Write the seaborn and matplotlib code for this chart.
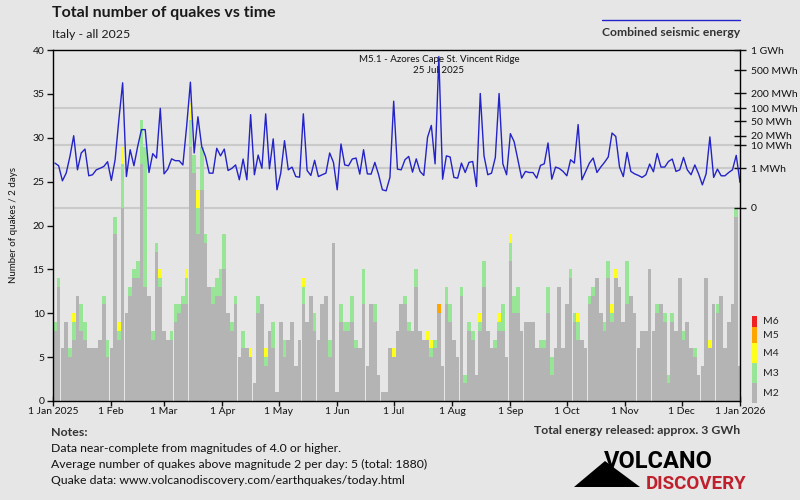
import numpy as np
import pandas as pd
import matplotlib
matplotlib.use("Agg")
import matplotlib.pyplot as plt
from matplotlib.patches import Rectangle, Polygon
import seaborn as sns

# quakes per 2-day bin, split by magnitude class (M2 = 2..3, M3, M4, M5)
m2 = [8, 13, 6, 9, 5, 7, 12, 8, 7, 6,
      6, 6, 7, 11, 5, 6, 19, 7, 22, 10,
      12, 14, 14, 27, 13, 12, 7, 17, 13, 8,
      7, 7, 9, 10, 11, 11, 29, 26, 19, 24,
      18, 13, 11, 12, 12, 15, 10, 8, 11, 5,
      6, 6, 5, 2, 10, 11, 4, 8, 6, 1,
      9, 5, 7, 9, 4, 7, 11, 9, 12, 8,
      7, 11, 12, 5, 18, 1, 9, 8, 8, 9,
      6, 6, 11, 4, 11, 9, 3, 1, 1, 6,
      5, 8, 11, 11, 8, 8, 13, 8, 7, 7,
      5, 6, 10, 4, 11, 9, 7, 5, 12, 2,
      8, 7, 3, 8, 13, 8, 6, 6, 8, 8,
      5, 16, 10, 10, 8, 9, 9, 9, 6, 6,
      6, 10, 3, 6, 13, 6, 11, 14, 9, 7,
      7, 6, 11, 12, 14, 10, 8, 14, 9, 14,
      13, 9, 11, 12, 10, 6, 8, 8, 15, 8,
      10, 11, 9, 2, 9, 8, 14, 7, 9, 6,
      5, 3, 4, 14, 6, 11, 10, 12, 6, 9,
      11, 21, 4]
m3 = [1, 1, 0, 0, 1, 2, 0, 3, 2, 0,
      0, 0, 0, 1, 2, 0, 2, 1, 5, 0,
      1, 1, 2, 5, 16, 0, 1, 1, 1, 0,
      0, 1, 2, 1, 1, 3, 3, 2, 3, 5,
      1, 0, 2, 2, 3, 4, 0, 1, 1, 0,
      2, 0, 0, 0, 2, 0, 1, 0, 3, 0,
      0, 2, 0, 0, 0, 0, 2, 0, 0, 2,
      0, 0, 0, 2, 0, 0, 2, 1, 1, 3,
      1, 0, 4, 0, 0, 2, 0, 0, 0, 0,
      0, 0, 0, 1, 1, 0, 2, 0, 0, 0,
      1, 1, 0, 0, 2, 2, 0, 0, 1, 1,
      1, 1, 0, 1, 3, 0, 0, 1, 1, 3,
      0, 2, 2, 3, 0, 0, 0, 0, 0, 1,
      1, 3, 2, 0, 0, 0, 0, 1, 1, 2,
      0, 0, 1, 1, 0, 0, 1, 2, 1, 0,
      0, 0, 5, 0, 0, 0, 0, 0, 0, 0,
      1, 0, 1, 1, 1, 0, 0, 1, 0, 0,
      1, 0, 0, 0, 0, 0, 1, 0, 0, 0,
      0, 1, 0]
m4 = [0] * 183
for i, n in [(6, 1), (18, 1), (19, 2), (29, 1), (36, 1), (37, 2), (39, 2), (53, 1),
             (57, 1), (67, 1), (91, 1), (100, 1), (101, 1), (114, 1), (119, 1),
             (122, 1), (140, 1), (149, 1), (150, 1), (175, 1)]:
    m4[i - 1] = n
m5 = [0] * 183
m5[103 - 1] = 1

# combined seismic energy per 2-day bin, MWh
energy_mwh = [1.85, 1.36, 0.15, 0.52, 3.7, 20, 0.82, 5.1, 7.2, 0.35,
              0.41, 0.82, 1.0, 1.25, 2.15, 0.16, 2.65, 55, 312, 0.31,
              6.8, 1.36, 9.0, 30, 30, 0.57, 4.8, 3.15, 100, 0.47,
              0.9, 2.9, 2.4, 2.4, 1.5, 37, 320, 5.1, 64, 9.0,
              3.7, 0.52, 0.52, 7.7, 3.9, 7.2, 0.75, 0.98, 1.5, 0.18,
              2.85, 0.18, 72, 0.41, 4.2, 1.0, 75, 0.94, 16, 0.02,
              0.52, 14, 0.82, 1.16, 0.31, 0.28, 75, 0.75, 0.37, 2.5,
              0.31, 0.41, 0.52, 5.1, 2.0, 0.02, 10.9, 1.5, 1.36, 2.85,
              3.15, 0.45, 6.8, 0.47, 0.45, 2.0, 0.41, 0.02, 0.015, 0.27,
              141, 0.9, 0.82, 2.65, 3.7, 0.6, 2.9, 0.66, 0.37, 18,
              39, 1.7, 810, 0.2, 3.9, 3.5, 0.27, 0.24, 1.85, 0.57,
              2.0, 2.2, 0.046, 200, 3.9, 0.41, 0.52, 3.35, 200, 1.7,
              0.41, 23, 13, 2.65, 0.24, 0.66, 0.57, 0.57, 0.24, 1.42,
              1.7, 11.8, 0.2, 1.16, 0.98, 0.66, 0.35, 2.65, 1.85, 41,
              0.18, 0.66, 1.85, 3.15, 0.57, 1.16, 2.0, 3.5, 24, 19,
              1.16, 0.31, 5.4, 0.66, 0.47, 0.37, 0.27, 0.41, 1.66, 0.63,
              4.9, 1.16, 1.16, 2.2, 2.85, 0.66, 0.82, 3.35, 0.82, 0.41,
              1.5, 0.47, 0.067, 0.47, 18.4, 0.27, 0.9, 0.35, 0.35, 0.57,
              0.82, 4.1, 0.11]

month_days = [0, 31, 59, 90, 120, 151, 181, 212, 243, 273, 304, 334, 365]
month_labels = ["1 Jan 2025", "1 Feb", "1 Mar", "1 Apr", "1 May", "1 Jun", "1 Jul",
                "1 Aug", "1 Sep", "1 Oct", "1 Nov", "1 Dec", "1 Jan 2026"]
energy_ticks = [0, 1, 10, 20, 50, 100, 200, 500, 1000]
energy_labels = ["0", "1 MWh", "10 MWh", "20 MWh", "50 MWh", "100 MWh",
                 "200 MWh", "500 MWh", "1 GWh"]
energy_grid = [0, 1, 10, 100]

mag_names = ["M2", "M3", "M4", "M5", "M6"]
mag_colors = ["#b4b4b4", "#98e598", "#ffff1e", "#ffa500", "#ee2222"]

BG = "#e6e6e6"
sns.set_theme(style="ticks", rc={"axes.facecolor": BG, "figure.facecolor": BG})
plt.rcParams["font.family"] = ["Lato", "DejaVu Sans"]

df = pd.DataFrame({"bin": np.arange(len(m2)), "m2": m2, "m3": m3, "m4": m4, "m5": m5,
                   "energy": energy_mwh})
df["c2"] = df["m2"]
df["c3"] = df["c2"] + df["m3"]
df["c4"] = df["c3"] + df["m4"]
df["c5"] = df["c4"] + df["m5"]


def fwd(e):
    e = np.asarray(e, dtype=float)
    return np.sign(e) * np.abs(e) ** 0.2


def inv(v):
    v = np.asarray(v, dtype=float)
    return np.sign(v) * np.abs(v) ** 5


e_low = -(22 / 18) ** 5 * 1000   # so that 0 MWh sits at 22 quakes and 1 GWh at 40

W, H = 800, 500
rect = [53 / W, 1 - 401 / H, 687 / W, 351 / H]
fig = plt.figure(figsize=(8, 5), dpi=100)

# background grid (behind the bars)
ax_bg = fig.add_axes(rect, zorder=0)
ax_bg.set_facecolor(BG)
ax_bg.set_yscale("function", functions=(fwd, inv))
ax_bg.set_ylim(e_low, 1000)
for e in energy_grid:
    ax_bg.axhline(e, color="#cacaca", lw=1.5)
ax_bg.axis("off")

# bars
ax = fig.add_axes(rect, zorder=1)
ax.patch.set_visible(False)
for col, c in zip(["c5", "c4", "c3", "c2"], mag_colors[3::-1]):
    sns.barplot(data=df, x="bin", y=col, color=c, saturation=1, width=0.97,
                linewidth=0, errorbar=None, ax=ax)
ax.set_ylim(0, 40)
ax.set_xlim(-0.5, 182)
ax.set_yticks(range(0, 41, 5))
ax.set_xticks([d / 2 - 0.5 for d in month_days], month_labels)
ax.tick_params(axis="y", direction="out", length=4, width=1, labelsize=7.5, pad=2,
               colors="#111111")
ax.tick_params(axis="x", direction="inout", length=7, width=1, labelsize=7.5, pad=1,
               colors="#111111")
ax.set_xlabel("")
ax.set_ylabel("")
for s in ["left", "bottom", "top"]:
    ax.spines[s].set_visible(True)
    ax.spines[s].set_color("black")
    ax.spines[s].set_linewidth(1)
ax.spines["right"].set_visible(False)

# energy line
ax2 = ax.twinx()
ax2.set_yscale("function", functions=(fwd, inv))
sns.lineplot(data=df, x="bin", y="energy", color="#2323c8", lw=1, ax=ax2)
ax2.set_ylim(e_low, 1000)
ax2.set_xlim(-0.5, 182)
ax2.set_yticks(energy_ticks, energy_labels)
ax2.yaxis.set_minor_locator(matplotlib.ticker.NullLocator())
ax2.tick_params(axis="y", direction="inout", length=8, width=1, labelsize=7.5, pad=4,
                colors="#111111")
ax2.set_xlabel("")
ax2.set_ylabel("")
for s in ["left", "bottom", "top"]:
    ax2.spines[s].set_visible(False)
ax2.spines["right"].set_visible(True)
ax2.spines["right"].set_color("black")
ax2.spines["right"].set_linewidth(1)

ax2.text(102, 0.985, "M5.1 - Azores Cape St. Vincent Ridge\n25 Jul 2025",
         transform=ax2.get_xaxis_transform(), ha="center", va="top",
         fontsize=7, color="#111111", linespacing=1.3)


def fx(px):
    return px / W


def fy(py):
    return 1 - py / H


fig.text(fx(52), fy(13), "Total number of quakes vs time", fontsize=11.5,
         fontweight="bold", color="#1a1a1a", va="center")
fig.text(fx(52), fy(34), "Italy - all 2025", fontsize=8.9, color="#1a1a1a", va="center")
fig.text(fx(14), fy(225), "Number of quakes / 2 days", fontsize=7, rotation=90,
         ha="center", va="center", color="#111111")

# energy legend
fig.add_artist(plt.Line2D([fx(602), fx(740)], [fy(20), fy(20)], color="#2323c8", lw=1))
fig.text(fx(740), fy(32), "Combined seismic energy", fontsize=8.7, fontweight="bold",
         ha="right", va="center", color="#333333")

# magnitude legend
mag_bounds = [403, 383, 363, 343, 327, 316]
for k, (name, c) in enumerate(zip(mag_names, mag_colors)):
    y0, y1 = mag_bounds[k], mag_bounds[k + 1]
    fig.add_artist(Rectangle((fx(752), fy(y0)), 5 / W, (y0 - y1) / H,
                             transform=fig.transFigure, color=c, lw=0))
    fig.text(fx(763), fy((y0 + y1) / 2), name, fontsize=7.5, va="center",
             color="#222222")

# notes
fig.text(fx(51), fy(432), "Notes:", fontsize=8.9, fontweight="bold", va="center",
         color="#333333")
notes = ["Data near-complete from magnitudes of 4.0 or higher.",
         "Average number of quakes above magnitude 2 per day: 5 (total: 1880)",
         "Quake data: www.volcanodiscovery.com/earthquakes/today.html"]
for k, line in enumerate(notes):
    fig.text(fx(51), fy(448 + 16 * k), line, fontsize=8.85, va="center", color="#111111")
fig.text(fx(740), fy(431), "Total energy released: approx. 3 GWh", fontsize=8.8,
         fontweight="bold", ha="right", va="center", color="#333333")

# logo
fig.add_artist(Polygon([(fx(574), fy(487)), (fx(640), fy(487)), (fx(605), fy(461))],
                       closed=True, transform=fig.transFigure, color="black", lw=0))
fig.text(fx(604), fy(468), "VOLCANO", fontsize=17, fontweight="bold",
         family=["Roboto"], color="black", va="baseline")
fig.text(fx(646), fy(489), "DISCOVERY", fontsize=13.5, fontweight="bold",
         family=["Roboto"], color="#c0202c", va="baseline")

fig.savefig("out.png", dpi=100, facecolor=BG)
